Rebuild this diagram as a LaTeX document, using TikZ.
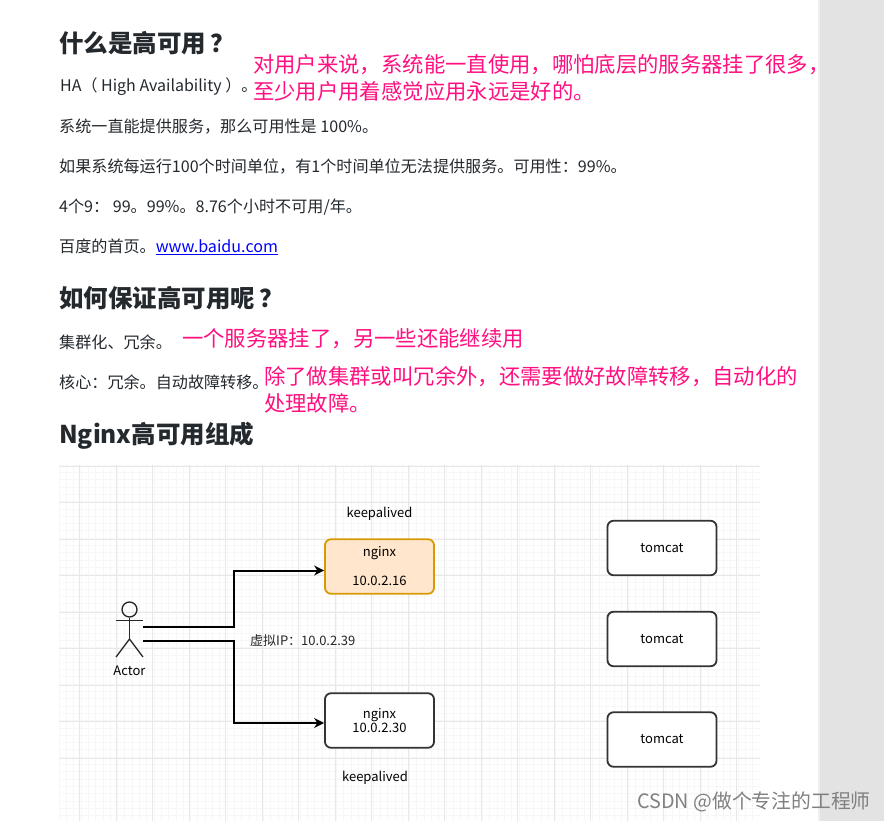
\documentclass[tikz,border=0pt]{standalone}
\usepackage{xcolor}
\usepackage{fontspec}
\setmainfont{Noto Sans CJK SC}
\usetikzlibrary{arrows.meta, positioning}
\definecolor{inkgray}{HTML}{24292E}
\definecolor{notepink}{HTML}{FF0F80}
\definecolor{pagegray}{HTML}{E3E3E3}
\definecolor{gridminor}{HTML}{F7F7F7}
\definecolor{gridmajor}{HTML}{E8E8E8}
\definecolor{boxline}{HTML}{333333}
\definecolor{nginxline}{HTML}{D79B00}
\definecolor{nginxfill}{HTML}{FFE6CC}

\begin{document}
\begin{tikzpicture}[x=1pt, y=-1pt]
\tikzstyle{head} = [anchor=base west, inner sep=0pt, text=inkgray, font=\fontsize{24.5}{28}\selectfont\bfseries]
\tikzstyle{body} = [anchor=base west, inner sep=0pt, text=inkgray, font=\fontsize{16.1}{20}\selectfont]
\tikzstyle{note} = [anchor=base west, inner sep=0pt, text=notepink, align=left, font=\fontsize{21.35}{27.5}\selectfont]
\tikzstyle{box} = [rectangle, rounded corners=6pt, draw=boxline, line width=1.8pt, fill=white, minimum width=109pt, minimum height=54.5pt, align=center, text=black, font=\fontsize{13}{15}\selectfont]
\tikzstyle{label} = [inner sep=0pt, text=black, font=\fontsize{13}{15}\selectfont]
\tikzstyle{arrow} = [line width=2pt, ->, >={Stealth[length=10pt, width=10pt]}]
\tikzstyle{stick} = [line width=1.3pt, draw=black!85]

\useasboundingbox (0,0) rectangle (884,821);
\fill[white] (0,0) rectangle (884,821);
\fill[pagegray] (819,0) rectangle (884,821);
\fill[black!6] (818,0) rectangle (820,821);

% page text
\node (title1) [head] at (59,53) {什么是高可用\hspace{4pt}？};
\node (ha) [body, font=\fontsize{16}{20}\selectfont] at (60,92) {HA（ High Availability ）。};
\node (note1) [note, anchor=north west] at (253,54) {对用户来说，系统能一直使用，哪怕底层的服务器挂了很多，\\至少用户用着感觉应用永远是好的。};
\node (line1) [body] at (59,133) {系统一直能提供服务，那么可用性是 100\%。};
\node (line2) [body] at (59,173) {如果系统每运行100个时间单位，有1个时间单位无法提供服务。可用性：99\%。};
\node (line3) [body] at (59,213) {4个9： 99。99\%。8.76个小时不可用/年。};
\node (line4) [body] at (59,253) {百度的首页。\textcolor{blue}{\underline{www.baidu.com}}};
\node (title2) [head] at (59,307) {如何保证高可用呢\hspace{4pt}？};
\node (line5) [body] at (59,348) {集群化、冗余。};
\node (note2) [note] at (182,346) {一个服务器挂了，另一些还能继续用};
\node (line6) [body] at (59,388) {核心：冗余。自动故障转移。};
\node (note3) [note, anchor=north west] at (264,366) {除了做集群或叫冗余外，还需要做好故障转移，自动化的\\处理故障。};
\node (title3) [head] at (59,443) {Nginx高可用组成};

% grid
\foreach \i in {0,...,95} {
  \draw[gridminor, line width=0.5pt] (59+\i*7.3,465) -- (59+\i*7.3,821);
}
\foreach \i in {0,...,48} {
  \draw[gridminor, line width=0.5pt] (59,465+\i*7.3) -- (760,465+\i*7.3);
}
\foreach \i in {0,...,18} {
  \draw[gridmajor, line width=0.7pt] (79.5+\i*36.5,465) -- (79.5+\i*36.5,821);
}
\foreach \i in {0,...,8} {
  \draw[gridmajor, line width=0.7pt] (59,466+\i*36.5) -- (760,466+\i*36.5);
}

% boxes
\node (nginxa) [box, draw=nginxline, fill=nginxfill] at (379.5,566.5) {nginx\\[14pt]10.0.2.16};
\node (nginxb) [box] at (379.5,720.5) {\raisebox{-1.5pt}{nginx}\\\raisebox{-1pt}{10.0.2.30}};
\node (tomcata) [box] at (662,548) {\raisebox{-2pt}[6pt][2pt]{tomcat}};
\node (tomcatb) [box] at (662,639) {\raisebox{-2pt}[6pt][2pt]{tomcat}};
\node (tomcatc) [box] at (662,739.5) {\raisebox{-2pt}[6pt][2pt]{tomcat}};
\node (keepa) [label, above=17.5pt of nginxa] {keepalived};
\node (keepb) [label, xshift=-4.5pt, below=22pt of nginxb] {keepalived};
\node (vip) [label, anchor=base west, text=black!85] at (250,645.5) {虚拟IP：10.0.2.39};

% actor
\node (actorhead) [circle, stick, draw, minimum size=15pt, inner sep=0pt] at (129.5,609.5) {};
\coordinate (neck) at (129.5,639);
\draw [stick] (actorhead) -- (neck);
\draw [stick] (116,620.5) -- (143,620.5);
\draw [stick] (116,657) -- (neck) -- (143,657);
\node (actor) [label] at (129.5,671) {Actor};

% connectors
\coordinate (actorup) at (143,626.5);
\coordinate (actordown) at (143,640.5);
\draw [arrow] (actorup) -- (234,626.5) -- (234,570.5) -- (nginxa.west |- 0,570.5);
\draw [arrow] (actordown) -- (234,640.5) -- (234,723) -- (nginxb.west |- 0,723);

% watermark
\node (mark) [anchor=base west, inner sep=0pt, text=black!50, font=\fontsize{19.8}{22}\selectfont] at (637,808) {CSDN @做个专注的工程师};
\end{tikzpicture}
\end{document}
